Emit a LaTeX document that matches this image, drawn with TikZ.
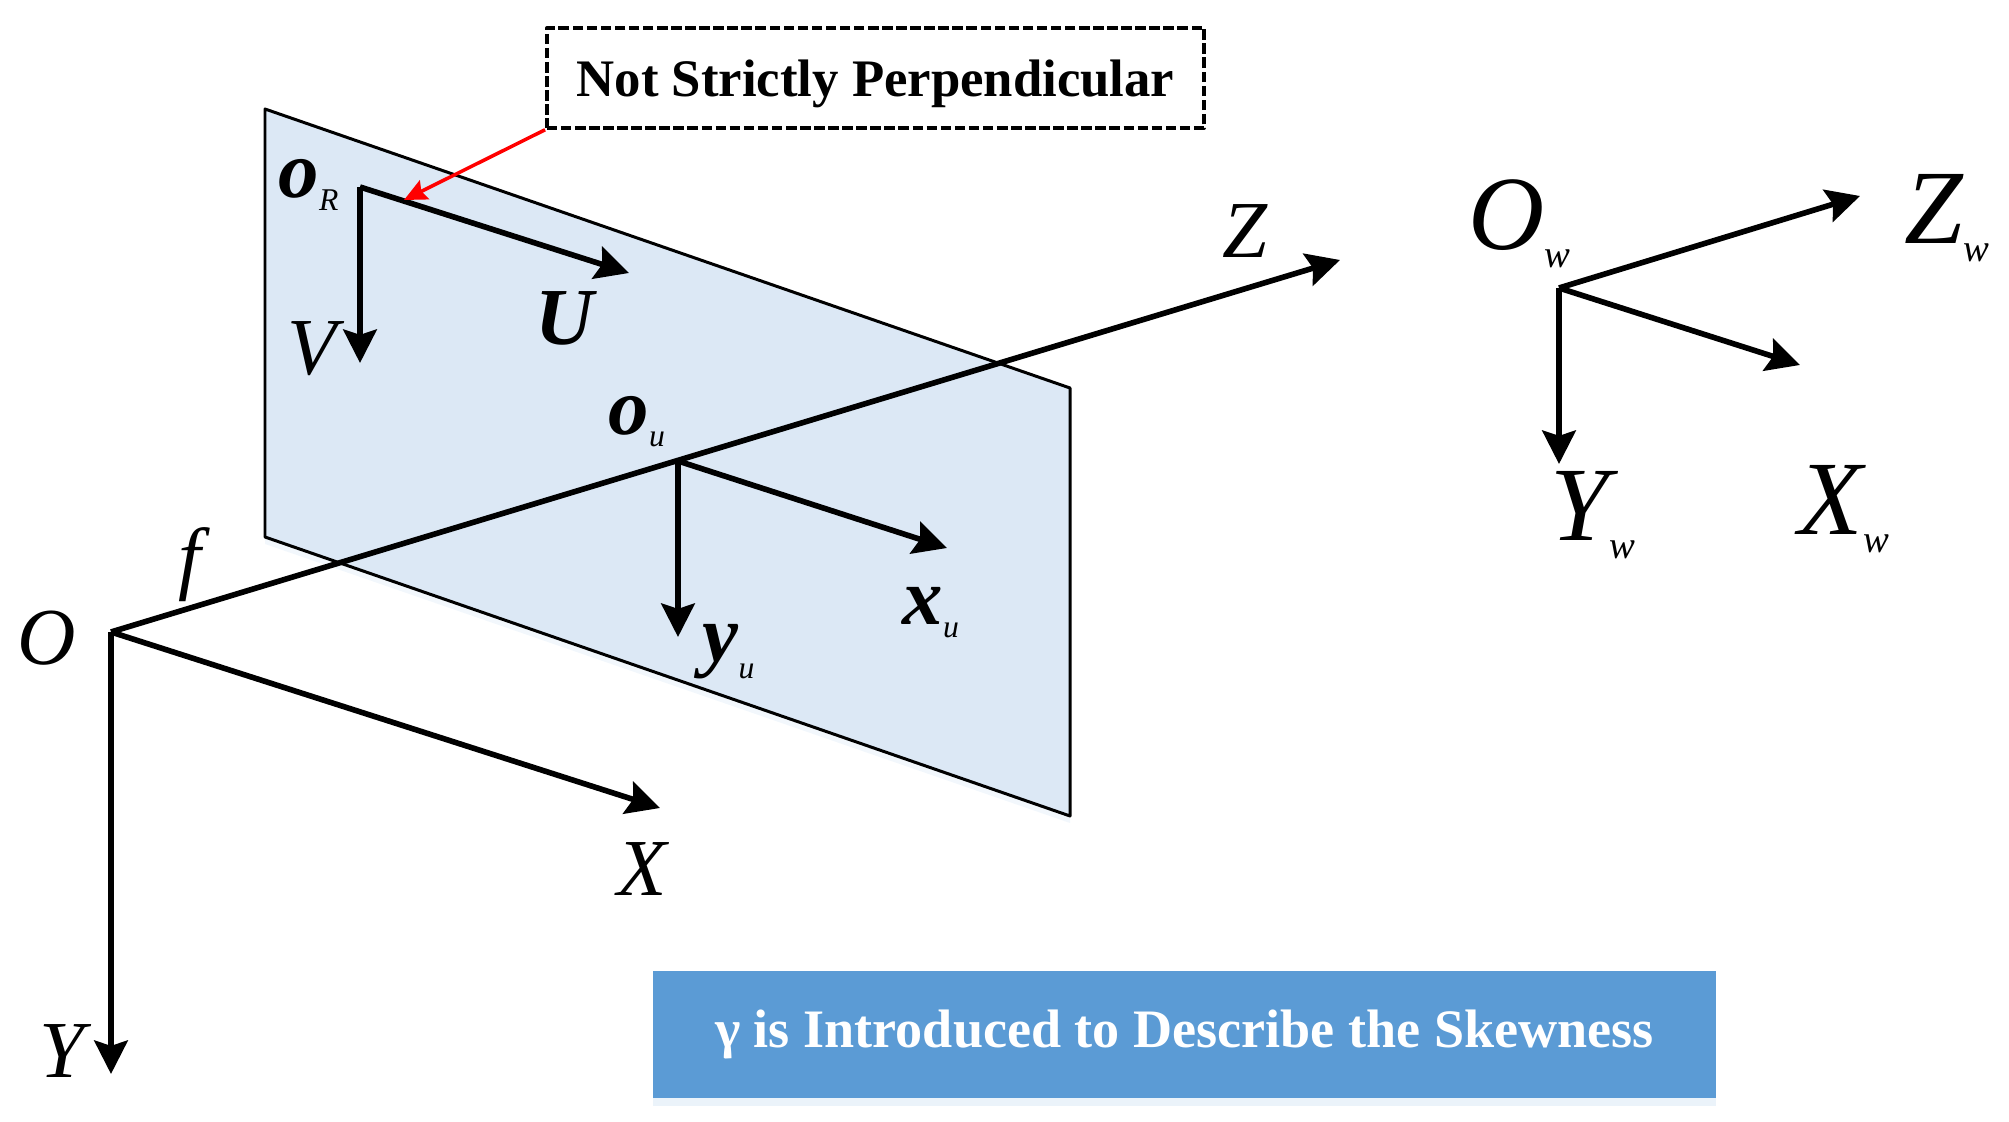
\documentclass[tikz,border=0pt]{standalone}
\usepackage{fontspec}
\setmainfont{Liberation Serif}
\usetikzlibrary{arrows.meta,shadows}
\definecolor{planeblue}{HTML}{DCE8F5}
\definecolor{boxblue}{HTML}{5B9BD5}
\newcommand{\axsub}[3]{#1\raisebox{-#3}{\fontsize{9}{9}\selectfont\mdseries #2}}
\newcommand{\axsubw}[1]{#1\raisebox{-5pt}{\fontsize{11}{11}\selectfont w}}
\tikzset{
	axis/.style={line width=1.6pt,-{Stealth[length=9.5pt,width=9.5pt,inset=1.5pt]}},
	axlab/.style={anchor=base west,inner sep=0pt,font=\fontsize{23}{23}\selectfont\itshape},
	smalllab/.style={axlab,font=\fontsize{23}{23}\selectfont\itshape\bfseries},
	biglab/.style={axlab,font=\fontsize{30}{30}\selectfont\itshape},
}
\begin{document}
\begin{tikzpicture}[line join = round,x=0.01cm,y=-0.01cm]
	\useasboundingbox (0,0) rectangle (2009,1122);
	% image plane
	\fill[planeblue,draw=black,line width=0.85pt,drop shadow={shadow xshift=0pt,shadow yshift=-0.7mm,fill=boxblue,opacity=0.08}] (265,109) -- (1070,388) -- (1070,816) -- (265,537) -- cycle;
	% origins and axis ends
	\coordinate (O) at (111,632);
	\coordinate (Ztip) at (1340,260);
	\coordinate (Xtip) at (660,808);
	\coordinate (Ytip) at (111,1074);
	\coordinate (ou) at (678,461);
	\coordinate (xtip) at (947,548);
	\coordinate (ytip) at (678,637);
	\coordinate (oR) at (360,187);
	\coordinate (Utip) at (629,273);
	\coordinate (Vtip) at (360,363);
	\coordinate (Ow) at (1559,288);
	\coordinate (Zwtip) at (1860,196);
	\coordinate (Xwtip) at (1800,365);
	\coordinate (Ywtip) at (1559,464);
	\foreach \a/\b in {O/Ztip,O/Xtip,O/Ytip,ou/xtip,ou/ytip,oR/Utip,oR/Vtip,Ow/Zwtip,Ow/Xwtip,Ow/Ywtip}
	{
		\draw[axis] (\a) -- (\b);
	}
	% labels
	\node[axlab] (labO) at (17,665) {O};
	\node[axlab] (labf) at (178,585) {f};
	\node[axlab] (labX) at (617,895) {X};
	\node[axlab] (labY) at (39,1077) {Y};
	\node[axlab] (labZ) at (1222,258) {Z};
	\node[axlab] (labV) at (287,375) {V};
	\node[smalllab] (labU) at (535,345) {U};
	\node[smalllab] (laboR) at (278,198) {\axsub{o}{R}{3.6pt}};
	\node[smalllab] (labou) at (608,435) {\axsub{o}{u}{3.3pt}};
	\node[smalllab] (labxu) at (902,625) {\axsub{x}{u}{3.6pt}};
	\node[smalllab] (labyu) at (702,662) {\axsub{y}{u}{4.7pt}};
	\node[biglab] (labOw) at (1468,250) {\axsubw{O}};
	\node[biglab] (labZw) at (1904,244) {\axsubw{Z}};
	\node[biglab] (labYw) at (1550,541) {\axsubw{Y}};
	\node[biglab] (labXw) at (1798,535) {\axsubw{X}};
	% callouts
	\node[draw=black,fill=white,dashed,dash pattern=on 3pt off 1pt,line width=1pt,minimum width=6.57cm,minimum height=1cm,text depth=0pt,font=\fontsize{15}{15}\selectfont\bfseries] (notebox) at (875.5,78) {Not Strictly Perpendicular};
	\coordinate (redtip) at (404,200);
	\draw[red,line width=1pt,-{Stealth[length=6.5pt,width=6pt,inset=1pt]}] (notebox.south west) -- (redtip);
	\node[fill=boxblue,text=white,minimum width=10.63cm,minimum height=1.27cm,font=\fontsize{15.4}{15.4}\selectfont\bfseries,drop shadow={shadow xshift=0pt,shadow yshift=-0.8mm,fill=boxblue,opacity=0.12}] (skewbox) at (1184.5,1034.5) {γ is Introduced to Describe the Skewness};
\end{tikzpicture}
\end{document}
